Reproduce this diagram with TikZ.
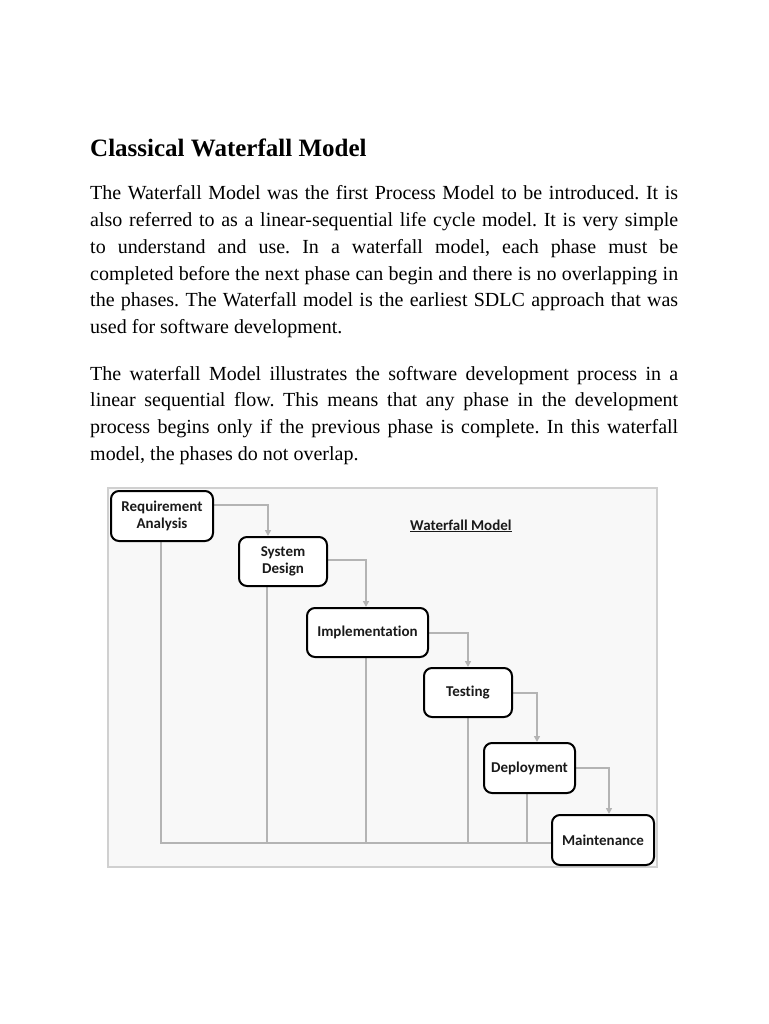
\documentclass[tikz,border=0pt]{standalone}
\usepackage{fontspec}
\setmainfont{Liberation Serif}
\newfontfamily\boxfont{Carlito}[Ligatures=NoCommon]
\usetikzlibrary{arrows.meta,backgrounds}
\definecolor{conn}{HTML}{B4B4B4}
\definecolor{framebg}{HTML}{F8F8F8}
\definecolor{frameline}{HTML}{D0D0D0}
\definecolor{boxtext}{HTML}{1A1A1A}
\frenchspacing
\begin{document}
\begin{tikzpicture}[x=1pt,y=-1pt,
  textline/.style={anchor=base west,inner sep=0pt,font=\fontsize{20}{26.7}\selectfont},
  phase/.style={draw=black,line width=2pt,rounded corners=8pt,fill=white,
    font=\boxfont\bfseries\fontsize{15}{17.5}\selectfont,text=boxtext,align=center,inner sep=0pt},
  flow/.style={draw=conn,line width=2pt,-{Triangle[length=6pt,width=6pt]}},
  back/.style={draw=conn,line width=2pt}]
\useasboundingbox (0,0) rectangle (768,1024);
% heading
\node[anchor=base west,inner sep=0pt,font=\fontsize{25}{30}\selectfont\bfseries] (title) at (90,157) {Classical Waterfall Model};
% paragraph 1
\node[textline] (p1a) at (90,200) {\makebox[588pt][s]{The Waterfall Model was the first Process Model to be introduced. It is}};
\node[textline] (p1b) at (90,226.7) {\makebox[588pt][s]{also referred to as a linear-sequential life cycle model. It is very simple}};
\node[textline] (p1c) at (90,253.3) {\makebox[588pt][s]{to understand and use. In a waterfall model, each phase must be}};
\node[textline] (p1d) at (90,280) {\makebox[588pt][s]{completed before the next phase can begin and there is no overlapping in}};
\node[textline] (p1e) at (90,306.7) {\makebox[588pt][s]{the phases. The Waterfall model is the earliest SDLC approach that was}};
\node[textline] (p1f) at (90,333.3) {used for software development.};
% paragraph 2
\node[textline] (p2a) at (90,380) {\makebox[588pt][s]{The waterfall Model illustrates the software development process in a}};
\node[textline] (p2b) at (90,406.7) {\makebox[588pt][s]{linear sequential flow. This means that any phase in the development}};
\node[textline] (p2c) at (90,433.3) {\makebox[588pt][s]{process begins only if the previous phase is complete. In this waterfall}};
\node[textline] (p2d) at (90,460) {model, the phases do not overlap.};
% diagram label
\node[anchor=base west,inner sep=0pt,font=\boxfont\bfseries\fontsize{15}{17}\selectfont,text=boxtext] (wm) at (410,530) {\underline{Waterfall Model}};
% phases
\node[phase,minimum width=102pt,minimum height=50pt] (ra) at (162,516) {Requirement\\Analysis};
\node[phase,minimum width=88pt,minimum height=49pt] (sd) at (283,561.5) {System\\Design};
\node[phase,minimum width=121pt,minimum height=49pt] (im) at (367.5,632.5) {Implementation};
\node[phase,minimum width=88pt,minimum height=49pt] (te) at (468,692.5) {Testing};
\node[phase,minimum width=91pt,minimum height=50pt] (de) at (529.5,768) {Deployment};
\node[phase,minimum width=102pt,minimum height=50pt] (ma) at (603,840) {Maintenance};
\coordinate (bl) at ([yshift=-3pt]ma.west);
\begin{scope}[on background layer]
\fill[white] (0,0) rectangle (768,1024);
\draw[fill=framebg,draw=frameline,line width=1.5pt] (108,488) rectangle (657,867);
% return lines
\draw[back] ([xshift=-1pt]ra.south) |- (bl);
\draw[back] ([xshift=-16pt]sd.south) |- (bl);
\draw[back] ([xshift=-1.5pt]im.south) |- (bl);
\draw[back] (te.south) |- (bl);
\draw[back] ([xshift=-2.5pt]de.south) |- (bl);
% flow arrows
\draw[flow] ([yshift=11pt]ra.east) -| ([xshift=-15pt]sd.north);
\draw[flow] ([yshift=1.5pt]sd.east) -| ([xshift=-1.5pt]im.north);
\draw[flow] (im.east) -| (te.north);
\draw[flow] (te.east) -| ([xshift=7.5pt]de.north);
\draw[flow] (de.east) -| ([xshift=6pt]ma.north);
\end{scope}
\end{tikzpicture}
\end{document}
